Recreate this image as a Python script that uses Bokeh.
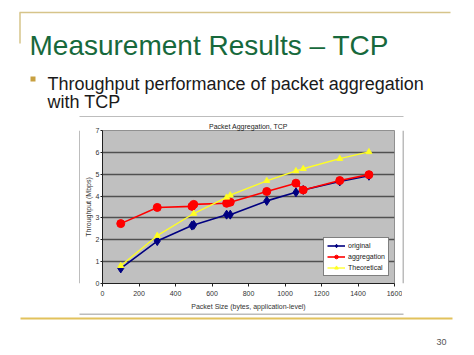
from bokeh.plotting import figure
from bokeh.layouts import column, row
from bokeh.models import FixedTicker, Range1d, Legend, LegendItem
from bokeh.core.properties import value
from bokeh.embed import file_html
from bokeh.resources import INLINE

# ---- data ----
x_original = [100, 300, 490, 500, 680, 700, 900, 1060, 1100, 1300, 1460]
y_original = [0.69, 1.94, 2.65, 2.68, 3.15, 3.15, 3.78, 4.17, 4.28, 4.67, 4.93]
x_aggregation = [100, 300, 490, 500, 680, 700, 900, 1060, 1100, 1300, 1460]
y_aggregation = [2.74, 3.48, 3.53, 3.62, 3.67, 3.72, 4.21, 4.59, 4.28, 4.71, 4.98]
x_theoretical = [100, 300, 500, 680, 700, 900, 1060, 1100, 1300, 1460]
y_theoretical = [0.81, 2.19, 3.2, 3.94, 4.04, 4.70, 5.15, 5.25, 5.71, 6.02]
x_ticks = [0, 200, 400, 600, 800, 1000, 1200, 1400, 1600]
y_ticks = [0, 1, 2, 3, 4, 5, 6, 7]

slide_title = "Measurement Results – TCP"
bullet_lines = ["Throughput performance of packet aggregation", "with TCP"]
chart_title = "Packet Aggregation, TCP"
x_label = "Packet Size (bytes, application-level)"
y_label = "Throughput (Mbps)"
page_number = "30"

FONT = "Liberation Sans"
GOLD = "#d6c48a"
GOLD2 = "#e2c25c"
BOXLINE = "#7a7a7a"


def blank(w, h):
    f = figure(width=w, height=h, x_range=Range1d(0, w), y_range=Range1d(h, 0),
               min_border=0, x_axis_location=None, y_axis_location=None,
               output_backend="svg", toolbar_location=None)
    f.xgrid.grid_line_color = None
    f.ygrid.grid_line_color = None
    f.outline_line_color = None
    f.background_fill_color = "white"
    f.border_fill_color = "white"
    return f


# ---- header (slide title and bullet) ----
head = blank(474, 117)
head.segment(x0=[19], y0=[12], x1=[450], y1=[12], line_color=GOLD, line_width=1.5)
head.segment(x0=[19.5], y0=[12], x1=[19.5], y1=[43], line_color=GOLD, line_width=1.5)
head.text(x=[29], y=[45], text=[slide_title], text_font=value(FONT), text_font_size="28px",
          text_color="#17693c", text_baseline="alphabetic")
head.quad(left=[30], right=[35], top=[76], bottom=[81], fill_color="#c8a040", line_color=None)
head.text(x=[47, 47], y=[83, 101], text=bullet_lines, text_font=value(FONT), text_font_size="18px",
          text_color="#1a1a1a", text_baseline="alphabetic")
head.segment(x0=[79], y0=[116.5], x1=[403], y1=[116.5], line_color=BOXLINE, line_width=1)

# ---- side strips ----
left = blank(80, 196)
left.segment(x0=[79.5], y0=[0], x1=[79.5], y1=[196], line_color=BOXLINE, line_width=1)
right = blank(72, 196)
right.segment(x0=[0.5], y0=[0], x1=[0.5], y1=[196], line_color=BOXLINE, line_width=1)

# ---- bottom strip ----
foot = blank(474, 42)
foot.segment(x0=[79], y0=[0.5], x1=[403], y1=[0.5], line_color=BOXLINE, line_width=1)
foot.segment(x0=[20], y0=[5], x1=[452], y1=[5], line_color=GOLD2, line_width=2)
foot.text(x=[441], y=[28], text=[page_number], text_font=value(FONT), text_font_size="9px",
          text_color="#555555", text_align="center", text_baseline="middle")

# ---- chart ----
p = figure(width=322, height=196, x_range=Range1d(0, 1600), y_range=Range1d(0, 7),
           min_border_left=22, min_border_right=8, min_border_top=13, min_border_bottom=30,
           output_backend="svg", toolbar_location=None)
p.title.text = chart_title
p.title.align = "center"
p.title.text_font = FONT
p.title.text_font_size = "7px"
p.title.text_font_style = "normal"
p.title.text_color = "#222222"
p.title.standoff = 2
p.title.offset = 0
p.background_fill_color = "#c0c0c0"
p.border_fill_color = "white"
p.outline_line_color = "#909090"
p.outline_line_width = 1

p.xgrid.grid_line_color = None
p.ygrid.grid_line_color = "#505050"
p.ygrid.grid_line_width = 1.5

for ax in (p.xaxis[0], p.yaxis[0]):
    ax.axis_line_color = "#202020"
    ax.major_tick_line_color = "#202020"
    ax.minor_tick_line_color = None
    ax.major_tick_in = 0
    ax.major_tick_out = 3
    ax.major_label_text_font = FONT
    ax.major_label_text_font_size = "7px"
    ax.major_label_text_color = "#333333"
    ax.axis_label_text_font = FONT
    ax.axis_label_text_font_size = "7px"
    ax.axis_label_text_font_style = "normal"
    ax.axis_label_text_color = "#333333"
p.xaxis.ticker = FixedTicker(ticks=x_ticks)
p.yaxis.ticker = FixedTicker(ticks=y_ticks)
p.xaxis.axis_label = x_label
p.yaxis.axis_label = y_label
p.xaxis.major_label_standoff = 4
p.xaxis.axis_label_standoff = 4
p.yaxis.major_tick_out = 2
p.yaxis.major_label_standoff = 1
p.yaxis.axis_label_standoff = 1

l1 = p.line(x_original, y_original, line_color="#000080", line_width=1.6)
m1 = p.scatter(x_original, y_original, marker="diamond", size=9, fill_color="#000080", line_color="#000080")
l2 = p.line(x_aggregation, y_aggregation, line_color="#ff0000", line_width=1.6)
m2 = p.scatter(x_aggregation, y_aggregation, marker="circle", size=8, fill_color="#ff0000", line_color="#ff0000")
l3 = p.line(x_theoretical, y_theoretical, line_color="#ffff22", line_width=1.3)
m3 = p.scatter(x_theoretical, y_theoretical, marker="triangle", size=6, fill_color="#ffff22", line_color="#ffff22")

legend = Legend(items=[LegendItem(label="original", renderers=[l1, m1]),
                       LegendItem(label="aggregation", renderers=[l2, m2]),
                       LegendItem(label="Theoretical", renderers=[l3, m3])],
                location=(221, 7), label_text_font=FONT, label_text_font_size="7px",
                label_text_color="#222222", glyph_width=18, glyph_height=9, label_height=9,
                label_standoff=3, spacing=2, padding=3, margin=0,
                border_line_color="black", border_line_width=1, background_fill_color="white",
                background_fill_alpha=1)
p.add_layout(legend, "center")

layout = column(head, row(left, p, right, spacing=0), foot, spacing=0)

open("out.html", "w").write(file_html(layout, INLINE))
